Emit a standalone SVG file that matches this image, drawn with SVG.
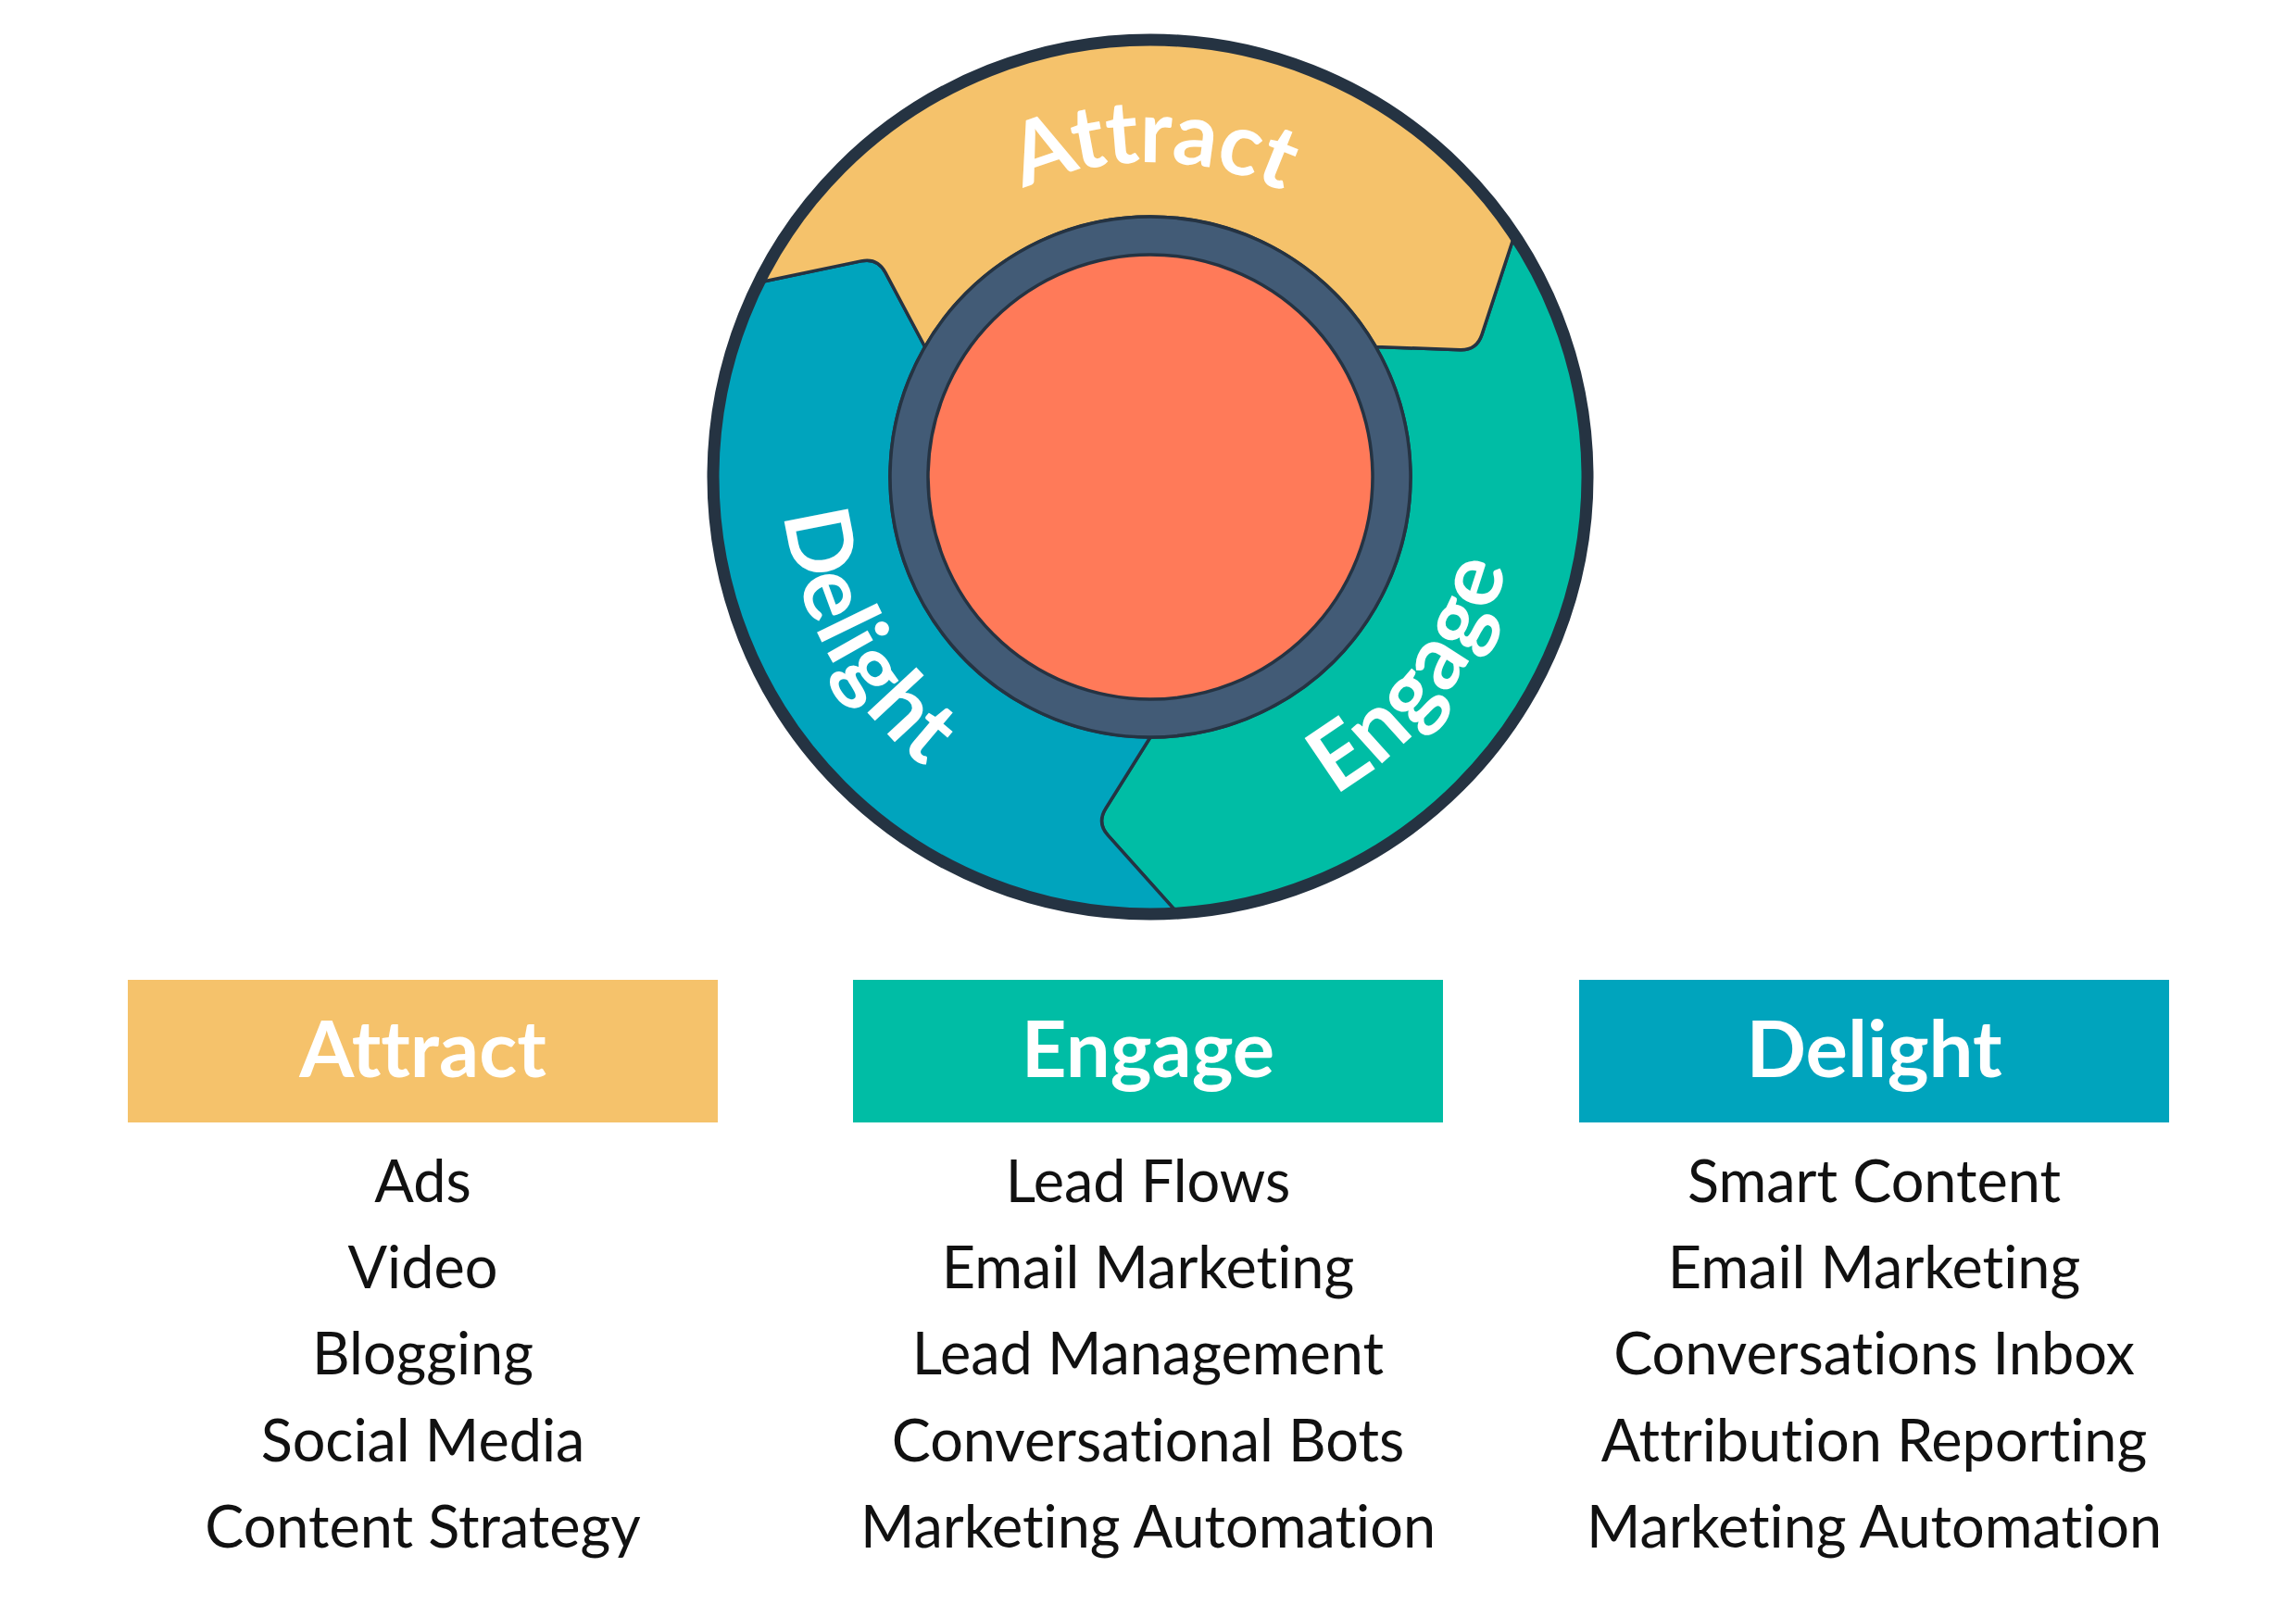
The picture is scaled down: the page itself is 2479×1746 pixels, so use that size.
<svg xmlns="http://www.w3.org/2000/svg" xmlns:xlink="http://www.w3.org/1999/xlink" width="2479" height="1746" viewBox="0 0 2479 1746">
<style>
text{font-variant-ligatures:none;font-feature-settings:"liga" 0,"clig" 0,"dlig" 0}
.seg{stroke:#253342;stroke-width:3.5;stroke-linejoin:round}
.ring-label{font-family:Lato,"Open Sans",sans-serif;font-weight:700;font-size:97px;letter-spacing:1px;fill:#ffffff}
.tight{font-size:94px;letter-spacing:-1px}
.hdr{font-family:Lato,"Open Sans",sans-serif;font-weight:700;font-size:85px;fill:#ffffff;text-anchor:middle}
.item{font-family:Lato,"Open Sans",sans-serif;font-weight:400;font-size:63px;fill:#111111;text-anchor:middle}
</style>
<defs>
<path id="segShape" d="M 1634.4 256.3 A 470 470 0 0 1 1269.9 984.2 L 1196.2 901.9 Q 1184.2 888.5 1193.7 873.2 L 1242 796 A 281 281 0 0 0 1485.3 374.5 L 1576.4 377.7 Q 1594.4 378.3 1600 361.2 Z"/>
<path id="arcAttract" d="M 907.7 453.1 A 340 340 0 0 1 1577.3 458.9"/>
<path id="arcEngage" d="M 1061.8 868.7 A 397 397 0 0 0 1532.4 244.2"/>
<path id="arcDelight" d="M 992.2 206.5 A 397 397 0 0 0 1371.3 890.4"/>
</defs>
<rect width="2479" height="1746" fill="#ffffff"/>

<g id="flywheel">
  <g id="engage-segment">
    <use xlink:href="#segShape" href="#segShape" class="seg" fill="#00BDA5"/>
  </g>
  <g id="delight-segment">
    <use xlink:href="#segShape" href="#segShape" class="seg" fill="#00A4BD" transform="rotate(120 1242 515)"/>
  </g>
  <g id="attract-segment">
    <use xlink:href="#segShape" href="#segShape" class="seg" fill="#F5C26B" transform="rotate(240 1242 515)"/>
  </g>
  <g id="hub">
    <circle cx="1242" cy="515" r="281" fill="#425B76" stroke="#253342" stroke-width="3.5"/>
    <circle cx="1242" cy="515" r="240" fill="#FF7A59" stroke="#253342" stroke-width="3.5"/>
  </g>
  <circle id="rim" cx="1242" cy="515" r="472" fill="none" stroke="#253342" stroke-width="13"/>
  <text class="ring-label tight"><textPath xlink:href="#arcAttract" href="#arcAttract" startOffset="50%" text-anchor="middle">Attract</textPath></text>
  <text class="ring-label"><textPath xlink:href="#arcEngage" href="#arcEngage" startOffset="50%" text-anchor="middle">Engage</textPath></text>
  <text class="ring-label"><textPath xlink:href="#arcDelight" href="#arcDelight" startOffset="50%" text-anchor="middle">Delight</textPath></text>
</g>

<g id="attract-column">
  <rect x="138" y="1058" width="637" height="154" fill="#F5C26B"/>
  <text class="hdr" x="456.5" y="1163">Attract</text>
  <text class="item" x="456.5" y="1298">Ads</text>
  <text class="item" x="456.5" y="1391">Video</text>
  <text class="item" x="456.5" y="1484">Blogging</text>
  <text class="item" x="456.5" y="1578">Social Media</text>
  <text class="item" x="456.5" y="1671">Content Strategy</text>
</g>

<g id="engage-column">
  <rect x="921" y="1058" width="637" height="154" fill="#00BDA5"/>
  <text class="hdr" x="1239.5" y="1163">Engage</text>
  <text class="item" x="1239.5" y="1298">Lead Flows</text>
  <text class="item" x="1239.5" y="1391">Email Marketing</text>
  <text class="item" x="1239.5" y="1484">Lead Management</text>
  <text class="item" x="1239.5" y="1578">Conversational Bots</text>
  <text class="item" x="1239.5" y="1671">Marketing Automation</text>
</g>

<g id="delight-column">
  <rect x="1705" y="1058" width="637" height="154" fill="#00A4BD"/>
  <text class="hdr" x="2023.5" y="1163">Delight</text>
  <text class="item" x="2023.5" y="1298">Smart Content</text>
  <text class="item" x="2023.5" y="1391">Email Marketing</text>
  <text class="item" x="2023.5" y="1484">Conversations Inbox</text>
  <text class="item" x="2023.5" y="1578">Attribution Reporting</text>
  <text class="item" x="2023.5" y="1671">Marketing Automation</text>
</g>
</svg>
